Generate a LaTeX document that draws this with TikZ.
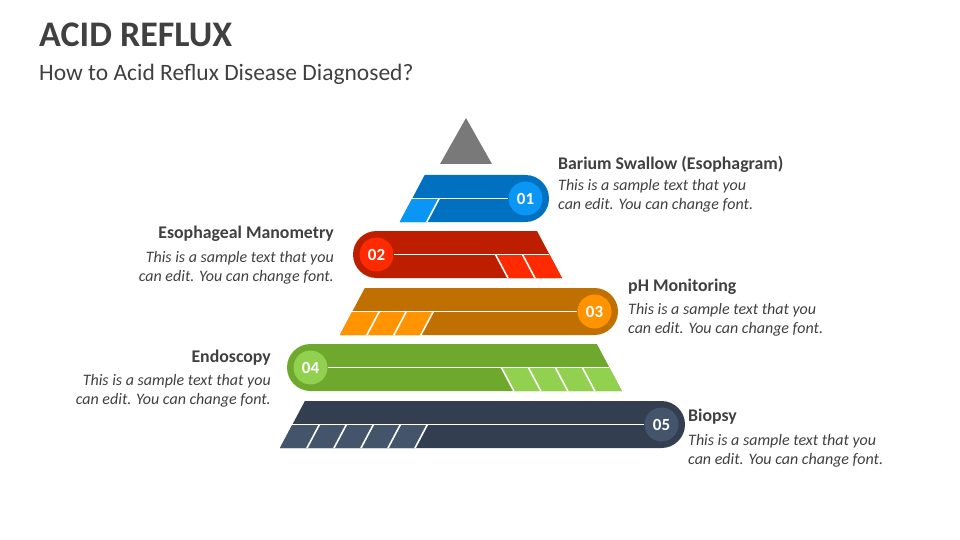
\documentclass[tikz,border=0pt]{standalone}
\usepackage{fontspec}
\setmainfont{Carlito}
\definecolor{txt}{HTML}{404040}
\definecolor{dA}{HTML}{0070C0}\definecolor{lA}{HTML}{0A96F5}
\definecolor{dB}{HTML}{BD1E00}\definecolor{lB}{HTML}{FF2A00}
\definecolor{dC}{HTML}{C07000}\definecolor{lC}{HTML}{FF9300}
\definecolor{dD}{HTML}{6EA92E}\definecolor{lD}{HTML}{92D050}
\definecolor{dE}{HTML}{333F50}\definecolor{lE}{HTML}{44546A}
\tikzset{
 num/.style={circle,minimum size=34pt,inner sep=0pt,text=white,font=\bfseries\fontsize{17}{17}\selectfont},
 head/.style={inner sep=0pt,text=txt,font=\bfseries\fontsize{17.8}{19}\selectfont},
 desc/.style={inner sep=0pt,text=txt,font=\itshape\fontsize{16}{19.5}\selectfont},
 sep/.style={white,line width=1.6pt}
}
\newcommand\tierRight[7]{%
 \pgfmathsetmacro\tT{#1}\pgfmathsetmacro\tB{#1+47}\pgfmathsetmacro\tM{#1+23.5}%
 \pgfmathsetmacro\eT{466-0.53*(\tT-97)}\pgfmathsetmacro\eB{466-0.53*(\tB-97)}\pgfmathsetmacro\eM{466-0.53*(\tM-97)}%
 \pgfmathsetmacro\cx{#2-23.5}%
 \fill[#3] (\eT,\tT) -- (\cx,\tT) -- (\cx,\tB) -- (\eB,\tB) -- cycle;
 \fill[#3] (\cx,\tM) circle[radius=23.5pt];
 \fill[#4] (\eM,\tM) -- (\eM+#5*27,\tM) -- (\eB+#5*27,\tB) -- (\eB,\tB) -- cycle;
 \foreach \i in {1,...,#5} \draw[sep] (\eM+\i*27,\tM) -- (\eB+\i*27,\tB);
 \node[num,fill=#4] (#7) at (\cx,\tM) {#6};
 \draw[sep] (\eM,\tM) -- (#7.west);
}
\newcommand\tierLeft[7]{%
 \pgfmathsetmacro\tT{#1}\pgfmathsetmacro\tB{#1+47}\pgfmathsetmacro\tM{#1+23.5}%
 \pgfmathsetmacro\eT{466+0.53*(\tT-97)}\pgfmathsetmacro\eB{466+0.53*(\tB-97)}\pgfmathsetmacro\eM{466+0.53*(\tM-97)}%
 \pgfmathsetmacro\cx{#2+23.5}%
 \fill[#3] (\eT,\tT) -- (\cx,\tT) -- (\cx,\tB) -- (\eB,\tB) -- cycle;
 \fill[#3] (\cx,\tM) circle[radius=23.5pt];
 \fill[#4] (\eM,\tM) -- (\eM-#5*27,\tM) -- (\eB-#5*27,\tB) -- (\eB,\tB) -- cycle;
 \foreach \i in {1,...,#5} \draw[sep] (\eM-\i*27,\tM) -- (\eB-\i*27,\tB);
 \node[num,fill=#4] (#7) at (\cx,\tM) {#6};
 \draw[sep] (\eM,\tM) -- (#7.east);
}
\begin{document}
\begin{tikzpicture}[x=1pt,y=-1pt]
\useasboundingbox (0,0) rectangle (960,540);
\node[anchor=base west,inner sep=0pt,text=txt,font=\bfseries\fontsize{36}{36}\selectfont] (title) at (39,47) {ACID REFLUX};
\node[anchor=base west,inner sep=0pt,text=txt,font=\fontsize{23.5}{26}\selectfont] (sub) at (39,81) {How to Acid Reflux Disease Diagnosed?};
\fill[gray!95!black] (440,164) -- (466,118) -- (492,164) -- cycle;
\tierRight{175}{549}{dA}{lA}{1}{01}{n1}
\tierLeft{231}{353}{dB}{lB}{2}{02}{n2}
\tierRight{288}{618}{dC}{lC}{3}{03}{n3}
\tierLeft{344}{287}{dD}{lD}{4}{04}{n4}
\tierRight{401}{685}{dE}{lE}{5}{05}{n5}
% texts
\node[head,anchor=base west] (h1) at (558,169.5) {Barium Swallow (Esophagram)};
\node[desc,anchor=north west,align=left] (d1) at (558,179) {This is a sample text that you\\can edit. You can change font.};
\node[head,anchor=base east] (h2) at (334,238) {Esophageal Manometry};
\node[desc,anchor=north east,align=right] (d2) at (334,251) {This is a sample text that you\\can edit. You can change font.};
\node[head,anchor=base west] (h3) at (628,291) {pH Monitoring};
\node[desc,anchor=north west,align=left] (d3) at (628,303) {This is a sample text that you\\can edit. You can change font.};
\node[head,anchor=base east] (h4) at (271,362) {Endoscopy};
\node[desc,anchor=north east,align=right] (d4) at (271,374) {This is a sample text that you\\can edit. You can change font.};
\node[head,anchor=base west] (h5) at (688,421) {Biopsy};
\node[desc,anchor=north west,align=left] (d5) at (688,434) {This is a sample text that you\\can edit. You can change font.};
\end{tikzpicture}
\end{document}
